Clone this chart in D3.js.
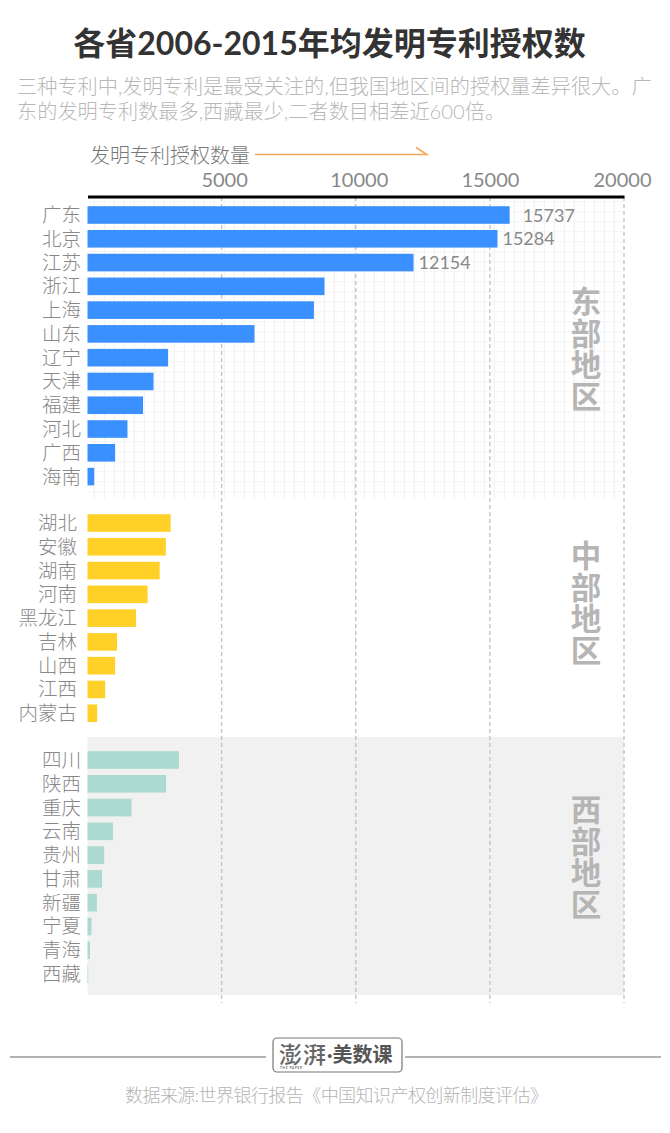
<!DOCTYPE html>
<html><head><meta charset="utf-8">
<script src="https://cdn.jsdelivr.net/npm/d3@7"></script>
<style>html,body{margin:0;padding:0;background:#fff}svg{display:block}text{font-family:Lato,"Noto Sans CJK SC",sans-serif}</style>
</head><body><svg id="c" width="670" height="1133"></svg>
<script>
const eastNames=["广东","北京","江苏","浙江","上海","山东","辽宁","天津","福建","河北","广西","海南"];
const eastValues=[15737,15284,12154,8835,8440,6225,3005,2460,2070,1490,1030,250];
const midNames=["湖北","安徽","湖南","河南","黑龙江","吉林","山西","江西","内蒙古"];
const midValues=[3100,2920,2690,2240,1810,1100,1030,660,360];
const westNames=["四川","陕西","重庆","云南","贵州","甘肃","新疆","宁夏","青海","西藏"];
const westValues=[3410,2930,1640,950,620,540,350,150,90,26];
const ticks=[5000,10000,15000,20000];
const labelled=[15737,15284,12154];

const svg=d3.select("#c");
const x=d3.scaleLinear().domain([0,20000]).range([87.5,624]);
const bandH=23.78;
function yScale(names,first){return d3.scaleBand().domain(names).range([first-bandH/2,first-bandH/2+bandH*names.length]).paddingInner(0.26).paddingOuter(0.13);}

// title
svg.append("text").attr("x",329.5).attr("y",55).attr("text-anchor","middle").attr("font-size",32).attr("font-weight",700).attr("fill","#333").text("各省2006-2015年均发明专利授权数");
["三种专利中,发明专利是最受关注的,但我国地区间的授权量差异很大。广","东的发明专利数最多,西藏最少,二者数目相差近600倍。"].forEach((t,i)=>
 svg.append("text").attr("x",17).attr("y",94+i*25).attr("font-size",20.2).attr("font-weight",300).attr("fill","#b8b8b8").text(t));

// backgrounds
svg.append("rect").attr("x",x(0)).attr("y",737).attr("width",x(20000)-x(0)).attr("height",258).attr("fill","#f1f1f1");

// minor grid in east panel
const gridG=svg.append("g").attr("stroke-width",1);
d3.range(94.3,624,10).forEach(px=>gridG.append("line").attr("x1",px).attr("x2",px).attr("y1",198).attr("y2",498).attr("stroke","#efefef"));
d3.range(201.7,494,10).forEach(py=>gridG.append("line").attr("x1",x(0)).attr("x2",x(20000)).attr("y1",py).attr("y2",py).attr("stroke","#f5f5f5"));

// dashed
svg.append("g").selectAll("line").data(ticks).join("line")
 .attr("x1",d=>x(d)).attr("x2",d=>x(d)).attr("y1",197).attr("y2",1003)
 .attr("stroke","#c4c4c4").attr("stroke-width",1.4).attr("stroke-dasharray","4 3");

// axis
const axis=d3.axisTop(x).tickValues(ticks).tickSize(0).tickPadding(10).tickFormat(d3.format("d"));
const ag=svg.append("g").attr("transform","translate(0,196.5)").call(axis);
ag.select(".domain").attr("stroke","#000").attr("stroke-width",3);
const tickShift=[2.5,3,0,-2];
ag.selectAll("text").attr("font-size",20).attr("fill","#888").attr("dx",(d,i)=>tickShift[i]).style("font-family","Lato");

// axis title + arrow
svg.append("text").attr("x",90).attr("y",163).attr("font-size",20).attr("font-weight",300).attr("fill","#777").text("发明专利授权数量");
svg.append("path").attr("d","M255 154.5H427L416 147.5").attr("fill","none").attr("stroke","#f6a85a").attr("stroke-width",1.5);

function group(names,values,first,color,labelRight){
 const y=yScale(names,first);
 const g=svg.append("g");
 g.selectAll("rect").data(values).join("rect")
  .attr("x",x(0)).attr("y",(d,i)=>y(names[i])).attr("width",d=>x(d)-x(0)).attr("height",y.bandwidth()).attr("fill",color);
 g.selectAll("text").data(names).join("text")
  .attr("x",labelRight).attr("y",d=>y(d)+y.bandwidth()/2+7).attr("text-anchor","end").attr("font-size",19.5).attr("font-weight",300).attr("fill","#888").text(d=>d);
 return y;
}
const yE=group(eastNames,eastValues,215,"#3b90ff",81);
group(midNames,midValues,523,"#ffd027",77);
group(westNames,westValues,760,"#acd9d0",81);

// value labels
const labOff=[13,5,5];
labelled.forEach((v,i)=>svg.append("text").attr("x",x(v)+labOff[i]).attr("y",yE(eastNames[i])+yE.bandwidth()/2+6.5).attr("font-size",18).attr("fill","#888").text(v));

// region labels
[["东部地区",286],["中部地区",540],["西部地区",794]].forEach(([t,y0])=>{
 svg.append("text").attr("transform",`translate(585,${y0})`).style("writing-mode","vertical-rl").style("letter-spacing","1.3px")
  .attr("font-size",30.5).attr("font-weight",700).attr("fill","#b5b5b5").text(t);
});

// footer
svg.append("line").attr("x1",10).attr("x2",266).attr("y1",1057).attr("y2",1057).attr("stroke","#999").attr("stroke-width",1.3);
svg.append("line").attr("x1",405).attr("x2",661).attr("y1",1057).attr("y2",1057).attr("stroke","#999").attr("stroke-width",1.3);
svg.append("rect").attr("x",273).attr("y",1038).attr("width",129).attr("height",34).attr("rx",4).attr("fill","none").attr("stroke","#777").attr("stroke-width",1.2);
svg.append("text").attr("x",279).attr("y",1063).attr("font-size",23).attr("font-weight",500).attr("fill","#666").attr("textLength",47).text("澎湃");
svg.append("text").attr("x",280).attr("y",1069).attr("font-size",3).attr("font-weight",700).attr("fill","#666").attr("textLength",22).text("THE PAPER");
svg.append("text").attr("x",327).attr("y",1062).attr("font-size",20).attr("font-weight",700).attr("fill","#555").text("·美数课");
svg.append("text").attr("x",125).attr("y",1102).attr("font-size",18).attr("font-weight",300).attr("fill","#b4b4b4").attr("textLength",423).text("数据来源:世界银行报告《中国知识产权创新制度评估》");
</script></body></html>
